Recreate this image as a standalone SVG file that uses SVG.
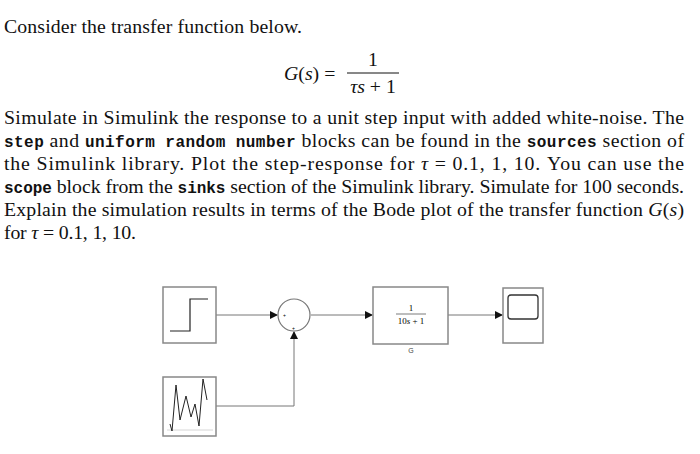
<svg xmlns="http://www.w3.org/2000/svg" width="700" height="454" viewBox="0 0 700 454">
<style>
.t{font-family:"Liberation Serif",serif;font-size:19.8px;fill:#111}
.m{font-family:"Liberation Mono",monospace;font-weight:bold;font-size:16px}
.i{font-style:italic}
.blk{fill:#fff;stroke:#888;stroke-width:1.5}
.ln{stroke:#777;stroke-width:1;fill:none}
</style>
<defs><marker id="a" markerWidth="8" markerHeight="8" refX="7" refY="4" orient="auto" markerUnits="userSpaceOnUse"><path d="M0,0 L8,4 L0,8 z" fill="#111"/></marker></defs>
<rect width="700" height="454" fill="#fff"/>
<text class="t" x="4" y="33" textLength="298" lengthAdjust="spacing">Consider the transfer function below.</text>
<text class="t" x="284" y="80"><tspan class="i">G</tspan>(<tspan class="i">s</tspan>) =</text>
<line x1="347" y1="73" x2="399" y2="73" stroke="#111" stroke-width="1"/>
<text class="t" x="373" y="66" text-anchor="middle">1</text>
<text class="t" x="373" y="93" text-anchor="middle"><tspan class="i">τs</tspan> + 1</text>
<text class="t" x="4" y="124" textLength="680" lengthAdjust="spacing">Simulate in Simulink the response to a unit step input with added white-noise. The</text>
<text class="t" x="4" y="147" textLength="680" lengthAdjust="spacing"><tspan class="m">step</tspan> and <tspan class="m">uniform random number</tspan> blocks can be found in the <tspan class="m">sources</tspan> section of</text>
<text class="t" x="4" y="170" textLength="680" lengthAdjust="spacing">the Simulink library.  Plot the step-response for <tspan class="i">τ</tspan>  =  0.1, 1, 10.  You can use the</text>
<text class="t" x="4" y="193" textLength="680" lengthAdjust="spacing"><tspan class="m">scope</tspan> block from the <tspan class="m">sinks</tspan> section of the Simulink library. Simulate for 100 seconds.</text>
<text class="t" x="4" y="216" textLength="680" lengthAdjust="spacing">Explain the simulation results in terms of the Bode plot of the transfer function <tspan class="i">G</tspan>(<tspan class="i">s</tspan>)</text>
<text class="t" x="4" y="239" textLength="132" lengthAdjust="spacing">for <tspan class="i">τ</tspan> = 0.1, 1, 10.</text>
<g id="connectors">
<line class="ln" x1="216" y1="315" x2="277" y2="315" marker-end="url(#a)"/>
<line class="ln" x1="311" y1="315" x2="372" y2="315" marker-end="url(#a)"/>
<line class="ln" x1="448" y1="315" x2="502" y2="315" marker-end="url(#a)"/>
<polyline class="ln" points="216,406 294,406 294,332" marker-end="url(#a)"/>
</g>
<g id="step"><rect class="blk" x="163" y="287" width="53" height="56"/><polyline points="170,331 190,331 190,299 208,299" fill="none" stroke="#222" stroke-width="1.2"/></g>
<g id="sum"><circle cx="294" cy="315" r="16" fill="#fff" stroke="#777" stroke-width="1.2"/><text x="283" y="317" font-family="Liberation Sans,sans-serif" font-size="5">+</text><text x="292" y="330" font-family="Liberation Sans,sans-serif" font-size="5">+</text></g>
<g id="G"><rect class="blk" x="373" y="287" width="75" height="57"/>
<text x="411" y="311" text-anchor="middle" font-family="Liberation Serif,serif" font-size="9">1</text>
<line x1="396" y1="314" x2="426" y2="314" stroke="#222" stroke-width="0.6"/>
<text x="411" y="324" text-anchor="middle" font-family="Liberation Serif,serif" font-size="9">10<tspan font-style="italic">s</tspan> + 1</text>
<text x="411" y="353" text-anchor="middle" font-family="Liberation Sans,sans-serif" font-size="7" fill="#444">G</text></g>
<g id="scope"><rect class="blk" x="503" y="288" width="40" height="55"/><rect x="508" y="295" width="30" height="24" rx="3" fill="#fff" stroke="#333" stroke-width="1.3"/></g>
<g id="noise"><rect class="blk" x="163" y="377" width="53" height="59"/><line x1="167" y1="430" x2="213" y2="430" stroke="#ccc" stroke-width="0.8"/><polyline points="170,424 172,431 176,385 180,420 186,396 191,417 195,404 199,426 203,379 207,400" fill="none" stroke="#222" stroke-width="1"/></g>
</svg>
